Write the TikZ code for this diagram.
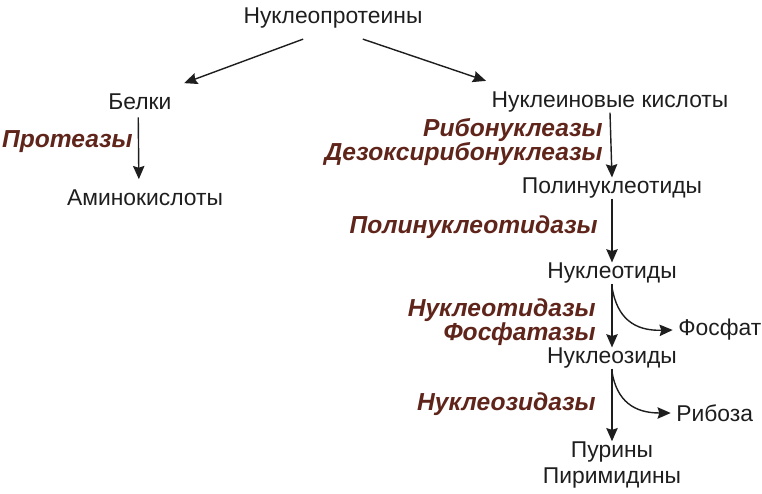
\documentclass[tikz,border=0pt]{standalone}
\usepackage{fontspec}
\setmainfont{Liberation Sans}
\usetikzlibrary{arrows.meta}
\definecolor{enzbrown}{RGB}{95,36,26}
\definecolor{txtgray}{RGB}{30,30,30}
\tikzset{
  term/.style={text=txtgray, font=\fontsize{13}{15}\selectfont, inner sep=0pt},
  enz/.style={text=enzbrown, font=\fontsize{14}{11.5}\selectfont\bfseries\itshape, inner sep=0pt, align=right},
  flow/.style={-{Stealth[length=7.5pt,width=6.5pt,inset=1pt]}, line width=0.8pt, txtgray}
}
\begin{document}
\begin{tikzpicture}[x=0.02cm,y=-0.02cm]
          \useasboundingbox (0,0) rectangle (762,494);
          % terms
          \node[term] (np) at (333,18) {Нуклеопротеины};
          \node[term] (bel) at (140,102) {Белки};
          \node[term] (nk) at (610,102) {Нуклеиновые кислоты};
          \node[term] (ak) at (145,198) {Аминокислоты};
          \node[term] (pn) at (612,188) {Полинуклеотиды};
          \node[term] (nt) at (612,273) {Нуклеотиды};
          \node[term] (ns) at (612,358) {Нуклеозиды};
          \node[term, align=center] (pur) at (612,465) {Пурины\\Пиримидины};
          \node[term, anchor=west] (fos) at (678,330) {Фосфат};
          \node[term, anchor=west] (rib) at (676,413) {Рибоза};
          % enzymes
          \node[enz, anchor=east] (prot) at (133,142) {Протеазы};
          \node[enz, anchor=east] (rnk) at (603,142) {Рибонуклеазы\\Дезоксирибонуклеазы};
          \node[enz, anchor=east] (pnt) at (598,227) {Полинуклеотидазы};
          \node[enz, anchor=east] (ntd) at (596,322) {Нуклеотидазы\\Фосфатазы};
          \node[enz, anchor=east] (nsd) at (596,404) {Нуклеозидазы};
          % arrows
          \draw[flow] ([xshift=-17pt,yshift=-6pt]np.south) -- ([xshift=7pt,yshift=6pt]bel.north east);
          \draw[flow] ([xshift=17pt,yshift=-6pt]np.south) -- ([xshift=-3pt,yshift=6pt]nk.north west);
          \draw[flow] ([xshift=-1pt,yshift=-4pt]bel.south) -- ([xshift=-3.5pt,yshift=6pt]ak.north);
          \draw[flow] (nk.south) -- (pn.north);
          \draw[flow] (pn.south) -- (nt.north);
          \draw[flow] (nt.south) -- (ns.north);
          \draw[flow] (ns.south) -- (pur.north);
          % side branches
          \draw[flow] ([yshift=-2pt]nt.south) .. controls (617,318) and (634,331) .. ([xshift=-3pt]fos.west);
          \draw[flow] ([yshift=-2pt]ns.south) .. controls (617,401) and (634,413) .. ([xshift=-3pt]rib.west);
        \end{tikzpicture}
\end{document}
